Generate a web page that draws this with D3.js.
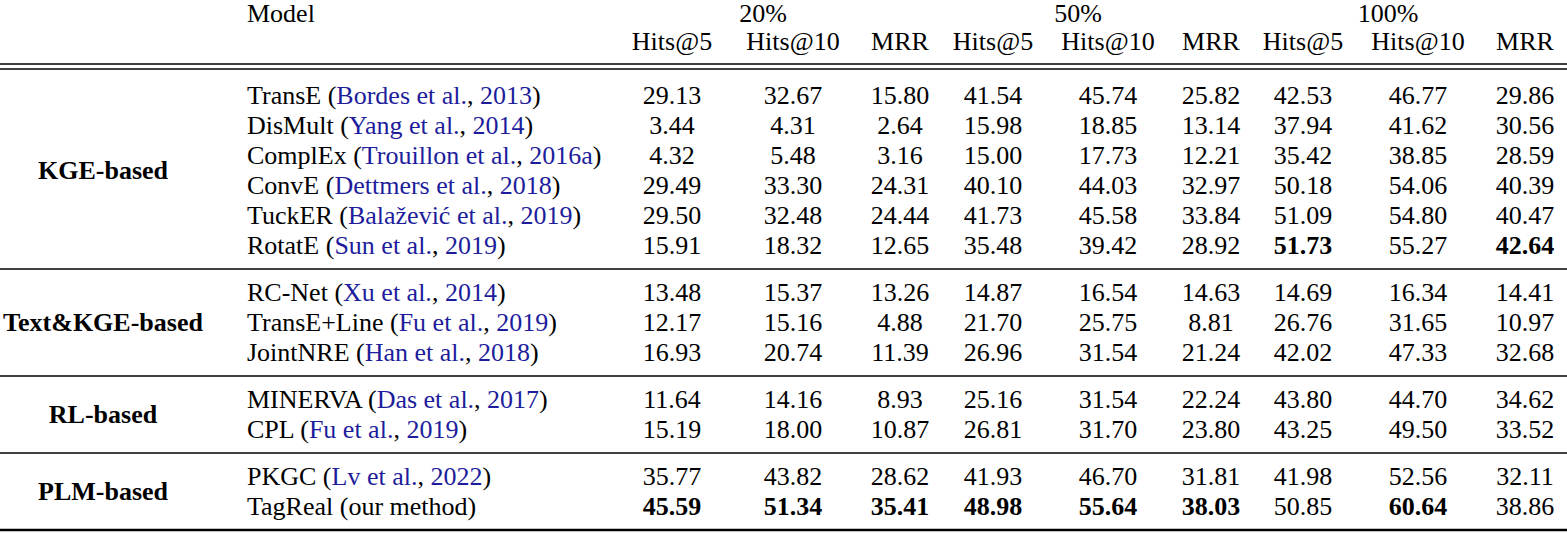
<!DOCTYPE html>
<html><head><meta charset="utf-8">
<script src="https://cdn.jsdelivr.net/npm/d3@7"></script>
<style>body{margin:0;background:#fff}text{font-family:"Liberation Serif","DejaVu Serif",serif;font-size:26px}</style>
</head><body><div id="chart"></div>
<script>
const groups = ["KGE-based", "Text&KGE-based", "RL-based", "PLM-based"];
const groupSizes = [6, 3, 2, 2];
const models = ["TransE", "DisMult", "ComplEx", "ConvE", "TuckER", "RotatE", "RC-Net", "TransE+Line", "JointNRE", "MINERVA", "CPL", "PKGC", "TagReal (our method)"];
const cites = [["Bordes et al.", "2013"], ["Yang et al.", "2014"], ["Trouillon et al.", "2016a"], ["Dettmers et al.", "2018"], ["Balažević et al.", "2019"], ["Sun et al.", "2019"], ["Xu et al.", "2014"], ["Fu et al.", "2019"], ["Han et al.", "2018"], ["Das et al.", "2017"], ["Fu et al.", "2019"], ["Lv et al.", "2022"], null];
const pcts = ["20%", "50%", "100%"];
const metrics = ["Hits@5", "Hits@10", "MRR"];
const values = [
  ["29.13","32.67","15.80","41.54","45.74","25.82","42.53","46.77","29.86"],
  ["3.44","4.31","2.64","15.98","18.85","13.14","37.94","41.62","30.56"],
  ["4.32","5.48","3.16","15.00","17.73","12.21","35.42","38.85","28.59"],
  ["29.49","33.30","24.31","40.10","44.03","32.97","50.18","54.06","40.39"],
  ["29.50","32.48","24.44","41.73","45.58","33.84","51.09","54.80","40.47"],
  ["15.91","18.32","12.65","35.48","39.42","28.92","51.73","55.27","42.64"],
  ["13.48","15.37","13.26","14.87","16.54","14.63","14.69","16.34","14.41"],
  ["12.17","15.16","4.88","21.70","25.75","8.81","26.76","31.65","10.97"],
  ["16.93","20.74","11.39","26.96","31.54","21.24","42.02","47.33","32.68"],
  ["11.64","14.16","8.93","25.16","31.54","22.24","43.80","44.70","34.62"],
  ["15.19","18.00","10.87","26.81","31.70","23.80","43.25","49.50","33.52"],
  ["35.77","43.82","28.62","41.93","46.70","31.81","41.98","52.56","32.11"],
  ["45.59","51.34","35.41","48.98","55.64","38.03","50.85","60.64","38.86"]
];
const boldCells = [[5,6],[5,8],[12,0],[12,1],[12,2],[12,3],[12,4],[12,5],[12,7]];

const W = 1567, H = 533;
const svg = d3.select("#chart").append("svg").attr("width", W).attr("height", H);
const colX = [672, 793, 900, 993, 1108, 1211, 1303, 1418, 1525];
const x = d3.scaleOrdinal().domain(d3.range(9)).range(colX);

// row positions: index within table plus group gaps
const rowGroup = groupSizes.flatMap((n, g) => d3.range(n).map(() => g));
const y = d3.scaleLinear().domain([0, 1]).range([95, 125]);
const gap = 17;
const rowY = i => y(i) + rowGroup[i] * gap;
const base = 9;

// header
svg.append("text").attr("x", 247).attr("y", 22).text("Model");
svg.selectAll(".pct").data(pcts).join("text")
  .attr("x", (d, i) => x(i * 3 + 1) - 30).attr("y", 22).attr("text-anchor", "middle").text(d => d);
svg.selectAll(".met").data(d3.range(9)).join("text")
  .attr("x", d => x(d)).attr("y", 50).attr("text-anchor", "middle").text(d => metrics[d % 3]);

const line = (yy, w) => svg.append("line").attr("x1", 0).attr("x2", W).attr("y1", yy).attr("y2", yy).attr("stroke", "#000").attr("stroke-width", w);
line(64, 1.4); line(69, 1.4);
let acc = 0;
groupSizes.forEach((n, g) => {
  const first = acc, last = acc + n - 1;
  acc += n;
  const sepY = rowY(last) + 24;
  line(sepY, g === groups.length - 1 ? 2.4 : 1.4);
  svg.append("text").attr("x", 103).attr("y", (rowY(first) + rowY(last)) / 2 + base)
    .attr("text-anchor", "middle").attr("font-weight", "bold").text(groups[g]);
});

// model names
const mt = svg.selectAll(".model").data(models).join("text")
  .attr("x", 247).attr("y", (d, i) => rowY(i) + base);
mt.each(function(d, i) {
  const t = d3.select(this);
  t.append("tspan").text(d);
  const c = cites[i];
  if (c) {
    t.append("tspan").text(" (");
    t.append("tspan").attr("fill", "#1d1d9c").text(c[0]);
    t.append("tspan").text(", ");
    t.append("tspan").attr("fill", "#1d1d9c").text(c[1]);
    t.append("tspan").text(")");
  }
});

// values
const isBold = (r, c) => boldCells.some(b => b[0] === r && b[1] === c);
values.forEach((row, r) => {
  svg.selectAll(".v" + r).data(row).join("text")
    .attr("x", (d, c) => x(c)).attr("y", rowY(r) + base).attr("text-anchor", "middle")
    .attr("font-weight", (d, c) => isBold(r, c) ? "bold" : null).text(d => d);
});
</script></body></html>
